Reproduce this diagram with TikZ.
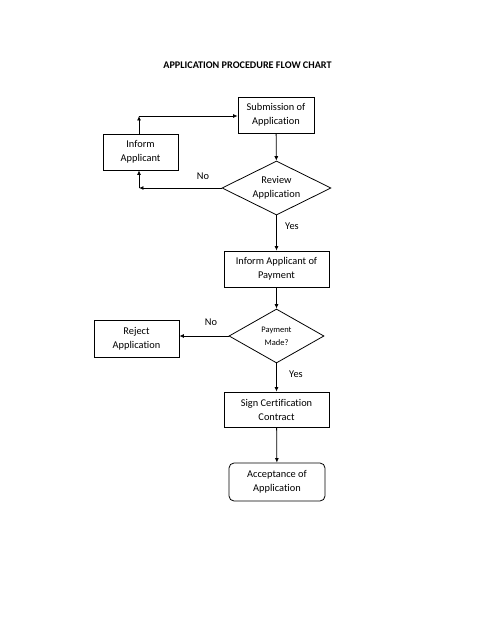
\documentclass[tikz,border=0pt]{standalone}
\usepackage{fontspec}
\setmainfont[Ligatures=NoCommon]{Carlito}
\usetikzlibrary{shapes.geometric,arrows.meta}
\begin{document}
\begin{tikzpicture}[x=1bp,y=-1bp,
  box/.style={draw,line width=0.8pt,minimum height=36bp,align=center,inner sep=1pt,font=\fontsize{10.4}{14}\selectfont},
  dia/.style={draw,line width=0.8pt,diamond,aspect=2,inner sep=0pt,align=center,font=\fontsize{10.4}{14}\selectfont},
  arr/.style={-{Latex[length=4.5pt,width=4pt]},line width=0.8pt},
  lbl/.style={font=\fontsize{10.4}{12}\selectfont}]
\useasboundingbox (0,0) rectangle (495,640);
\node[font=\bfseries\fontsize{10.2}{12}\selectfont] (title) at (247.5,65) {APPLICATION PROCEDURE FLOW CHART};
\node[box,minimum width=76bp] (sub) at (276,115) {Submission of\\Application};
\node[box,minimum width=75bp] (inf) at (140.5,152) {Inform\\Applicant};
\node[dia,minimum width=109bp,minimum height=54bp] (rev) at (276.5,188) {Review\\Application};
\node[box,minimum width=105bp] (pay) at (276.5,269) {Inform Applicant of\\Payment};
\node[dia,minimum width=95bp,minimum height=54bp,font=\fontsize{8.5}{13}\selectfont] (made) at (276.5,336) {Payment\\Made?};
\node[box,minimum width=85bp,minimum height=37bp] (rej) at (136.5,338.5) {Reject\\Application};
\node[box,minimum width=105bp,minimum height=35bp] (sign) at (276.5,409.5) {Sign Certification\\Contract};
\node[box,rounded corners=5bp,minimum width=96bp,minimum height=38bp] (acc) at (277,482) {Acceptance of\\Application};
\coordinate (c1) at (139,116);
\coordinate (c2) at (139,188);
\draw[arr] (inf.north -| c1) -- (c1);
\draw[arr] (c1) -- (c1 -| sub.west);
\draw[arr] (sub) -- (rev);
\draw[arr] (rev.west) -- (c2);
\draw[arr] (c2) -- (c2 |- inf.south);
\node[lbl] (no1) at (203,176) {No};
\draw[arr] (rev) -- (pay);
\node[lbl] (yes1) at (292,226) {Yes};
\draw[arr] (pay) -- (made);
\draw[arr] (made.west) -- (made.west -| rej.east);
\node[lbl] (no2) at (211,322) {No};
\draw[arr] (made) -- (sign);
\node[lbl] (yes2) at (296,374) {Yes};
\draw[arr] (sign) -- (acc);
\end{tikzpicture}
\end{document}
